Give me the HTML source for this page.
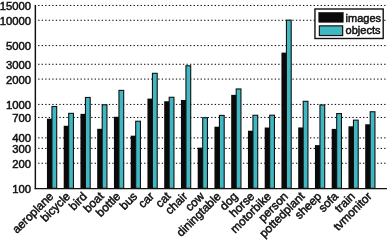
<!DOCTYPE html>
<html><head><meta charset="utf-8"><title>chart</title><style>html,body{margin:0;padding:0;background:#fff}body{width:388px;height:240px;overflow:hidden}</style></head><body>
<svg width="388" height="240" viewBox="0 0 388 240" style="display:block">
<rect width="388" height="240" fill="#fff"/>
<line x1="38.15" y1="163.22" x2="386.6" y2="163.22" stroke="#000" stroke-width="1" stroke-dasharray="1.35 2.181"/>
<line x1="38.15" y1="148.41" x2="386.6" y2="148.41" stroke="#000" stroke-width="1" stroke-dasharray="1.35 2.181"/>
<line x1="38.15" y1="137.89" x2="386.6" y2="137.89" stroke="#000" stroke-width="1" stroke-dasharray="1.35 2.181"/>
<line x1="38.15" y1="117.44" x2="386.6" y2="117.44" stroke="#000" stroke-width="1" stroke-dasharray="1.35 2.181"/>
<line x1="38.15" y1="104.41" x2="386.6" y2="104.41" stroke="#000" stroke-width="1" stroke-dasharray="1.35 2.181"/>
<line x1="38.15" y1="79.08" x2="386.6" y2="79.08" stroke="#000" stroke-width="1" stroke-dasharray="1.35 2.181"/>
<line x1="38.15" y1="64.27" x2="386.6" y2="64.27" stroke="#000" stroke-width="1" stroke-dasharray="1.35 2.181"/>
<line x1="38.15" y1="45.60" x2="386.6" y2="45.60" stroke="#000" stroke-width="1" stroke-dasharray="1.35 2.181"/>
<line x1="38.15" y1="20.27" x2="386.6" y2="20.27" stroke="#000" stroke-width="1" stroke-dasharray="1.35 2.181"/>
<line x1="38.15" y1="5.45" x2="386.6" y2="5.45" stroke="#000" stroke-width="1" stroke-dasharray="1.35 2.181"/>
<rect x="46.95" y="118.69" width="5.25" height="69.61" fill="#0a0a0a"/>
<rect x="51.95" y="106.48" width="4.75" height="81.82" fill="#3fb8c3" stroke="#111" stroke-width="1.1"/>
<rect x="63.70" y="125.77" width="5.25" height="62.53" fill="#0a0a0a"/>
<rect x="68.70" y="113.37" width="4.75" height="74.93" fill="#3fb8c3" stroke="#111" stroke-width="1.1"/>
<rect x="80.45" y="113.85" width="5.25" height="74.45" fill="#0a0a0a"/>
<rect x="85.45" y="97.46" width="4.75" height="90.84" fill="#3fb8c3" stroke="#111" stroke-width="1.1"/>
<rect x="97.20" y="128.81" width="5.25" height="59.49" fill="#0a0a0a"/>
<rect x="102.20" y="104.80" width="4.75" height="83.50" fill="#3fb8c3" stroke="#111" stroke-width="1.1"/>
<rect x="113.95" y="116.78" width="5.25" height="71.52" fill="#0a0a0a"/>
<rect x="118.95" y="90.38" width="4.75" height="97.92" fill="#3fb8c3" stroke="#111" stroke-width="1.1"/>
<rect x="130.70" y="135.67" width="5.25" height="52.63" fill="#0a0a0a"/>
<rect x="135.70" y="121.24" width="4.75" height="67.06" fill="#3fb8c3" stroke="#111" stroke-width="1.1"/>
<rect x="147.45" y="98.61" width="5.25" height="89.69" fill="#0a0a0a"/>
<rect x="152.45" y="73.32" width="4.75" height="114.98" fill="#3fb8c3" stroke="#111" stroke-width="1.1"/>
<rect x="164.20" y="101.25" width="5.25" height="87.05" fill="#0a0a0a"/>
<rect x="169.20" y="97.28" width="4.75" height="91.02" fill="#3fb8c3" stroke="#111" stroke-width="1.1"/>
<rect x="180.95" y="99.95" width="5.25" height="88.35" fill="#0a0a0a"/>
<rect x="185.95" y="65.78" width="4.75" height="122.52" fill="#3fb8c3" stroke="#111" stroke-width="1.1"/>
<rect x="197.70" y="147.69" width="5.25" height="40.61" fill="#0a0a0a"/>
<rect x="202.70" y="117.69" width="4.75" height="70.61" fill="#3fb8c3" stroke="#111" stroke-width="1.1"/>
<rect x="214.45" y="126.71" width="5.25" height="61.59" fill="#0a0a0a"/>
<rect x="219.45" y="115.42" width="4.75" height="72.88" fill="#3fb8c3" stroke="#111" stroke-width="1.1"/>
<rect x="231.20" y="94.87" width="5.25" height="93.43" fill="#0a0a0a"/>
<rect x="236.20" y="88.96" width="4.75" height="99.34" fill="#3fb8c3" stroke="#111" stroke-width="1.1"/>
<rect x="247.95" y="130.73" width="5.25" height="57.57" fill="#0a0a0a"/>
<rect x="252.95" y="115.27" width="4.75" height="73.03" fill="#3fb8c3" stroke="#111" stroke-width="1.1"/>
<rect x="264.70" y="127.54" width="5.25" height="60.76" fill="#0a0a0a"/>
<rect x="269.70" y="115.22" width="4.75" height="73.08" fill="#3fb8c3" stroke="#111" stroke-width="1.1"/>
<rect x="281.45" y="52.62" width="5.25" height="135.68" fill="#0a0a0a"/>
<rect x="286.45" y="20.15" width="4.75" height="168.15" fill="#3fb8c3" stroke="#111" stroke-width="1.1"/>
<rect x="298.20" y="127.47" width="5.25" height="60.83" fill="#0a0a0a"/>
<rect x="303.20" y="101.31" width="4.75" height="86.99" fill="#3fb8c3" stroke="#111" stroke-width="1.1"/>
<rect x="314.95" y="145.13" width="5.25" height="43.17" fill="#0a0a0a"/>
<rect x="319.95" y="104.98" width="4.75" height="83.32" fill="#3fb8c3" stroke="#111" stroke-width="1.1"/>
<rect x="331.70" y="128.88" width="5.25" height="59.42" fill="#0a0a0a"/>
<rect x="336.70" y="113.56" width="4.75" height="74.74" fill="#3fb8c3" stroke="#111" stroke-width="1.1"/>
<rect x="348.45" y="126.31" width="5.25" height="61.99" fill="#0a0a0a"/>
<rect x="353.45" y="120.17" width="4.75" height="68.13" fill="#3fb8c3" stroke="#111" stroke-width="1.1"/>
<rect x="365.20" y="124.28" width="5.25" height="64.02" fill="#0a0a0a"/>
<rect x="370.20" y="111.75" width="4.75" height="76.55" fill="#3fb8c3" stroke="#111" stroke-width="1.1"/>
<line x1="35.35" y1="4.9" x2="35.35" y2="189.10" stroke="#111" stroke-width="1.45"/>
<line x1="34.6" y1="188.50" x2="387" y2="188.50" stroke="#111" stroke-width="1.25"/>
<g font-family="'Liberation Sans', Arial, sans-serif" font-size="11" fill="#111" stroke="#111" stroke-width="0.5">
<text x="31.1" y="193.05" text-anchor="end" font-size="11.3">100</text>
<text x="31.1" y="167.72" text-anchor="end" font-size="11.3">200</text>
<text x="31.1" y="152.91" text-anchor="end" font-size="11.3">300</text>
<text x="31.1" y="142.39" text-anchor="end" font-size="11.3">400</text>
<text x="31.1" y="121.94" text-anchor="end" font-size="11.3">700</text>
<text x="31.1" y="108.91" text-anchor="end" font-size="11.3">1000</text>
<text x="31.1" y="83.58" text-anchor="end" font-size="11.3">2000</text>
<text x="31.1" y="68.77" text-anchor="end" font-size="11.3">3000</text>
<text x="31.1" y="50.10" text-anchor="end" font-size="11.3">5000</text>
<text x="31.1" y="24.77" text-anchor="end" font-size="11.3">10000</text>
<text x="31.1" y="9.95" text-anchor="end" font-size="11.3">15000</text>
<text transform="translate(54.20 197.00) rotate(-45)" text-anchor="end" font-size="11.8">aeroplane</text>
<text transform="translate(70.95 197.00) rotate(-45)" text-anchor="end" font-size="11.8">bicycle</text>
<text transform="translate(87.70 197.00) rotate(-45)" text-anchor="end" font-size="11.8">bird</text>
<text transform="translate(104.45 197.00) rotate(-45)" text-anchor="end" font-size="11.8">boat</text>
<text transform="translate(121.20 197.00) rotate(-45)" text-anchor="end" font-size="11.8">bottle</text>
<text transform="translate(137.95 197.00) rotate(-45)" text-anchor="end" font-size="11.8">bus</text>
<text transform="translate(154.70 197.00) rotate(-45)" text-anchor="end" font-size="11.8">car</text>
<text transform="translate(171.45 197.00) rotate(-45)" text-anchor="end" font-size="11.8">cat</text>
<text transform="translate(188.20 197.00) rotate(-45)" text-anchor="end" font-size="11.8">chair</text>
<text transform="translate(204.95 197.00) rotate(-45)" text-anchor="end" font-size="11.8">cow</text>
<text transform="translate(221.70 197.00) rotate(-45)" text-anchor="end" font-size="11.8">diningtable</text>
<text transform="translate(238.45 197.00) rotate(-45)" text-anchor="end" font-size="11.8">dog</text>
<text transform="translate(255.20 197.00) rotate(-45)" text-anchor="end" font-size="11.8">horse</text>
<text transform="translate(271.95 197.00) rotate(-45)" text-anchor="end" font-size="11.8">motorbike</text>
<text transform="translate(288.70 197.00) rotate(-45)" text-anchor="end" font-size="11.8">person</text>
<text transform="translate(305.45 197.00) rotate(-45)" text-anchor="end" font-size="11.8">pottedplant</text>
<text transform="translate(322.20 197.00) rotate(-45)" text-anchor="end" font-size="11.8">sheep</text>
<text transform="translate(338.95 197.00) rotate(-45)" text-anchor="end" font-size="11.8">sofa</text>
<text transform="translate(355.70 197.00) rotate(-45)" text-anchor="end" font-size="11.8">train</text>
<text transform="translate(372.45 197.00) rotate(-45)" text-anchor="end" font-size="11.8">tvmonitor</text>
<rect x="314.95" y="9.0" width="68.25" height="29.5" fill="#fff" stroke="#111" stroke-width="1.4"/>
<rect x="318.75" y="12.4" width="24.5" height="9.9" fill="#0a0a0a"/>
<rect x="319.35" y="25.85" width="23.3" height="9.7" fill="#3fb8c3" stroke="#111" stroke-width="1.2"/>
<text x="345.6" y="22.0">images</text>
<text x="345.6" y="34.2">objects</text>
</g>
</svg>
</body></html>
